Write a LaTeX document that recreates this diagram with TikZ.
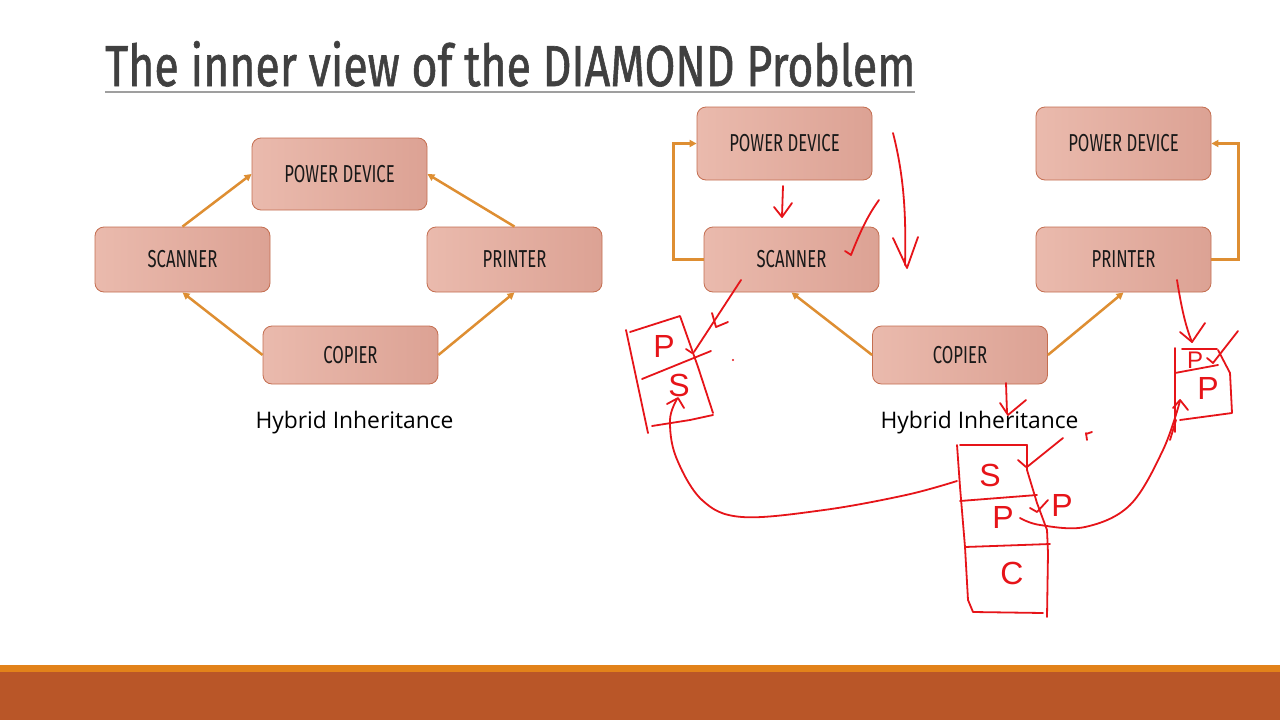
\documentclass[tikz,border=0pt]{standalone}
\usepackage{fontspec}
\usepackage{graphicx}
\usetikzlibrary{arrows.meta}
\newfontfamily\nodefont[FakeStretch=0.68]{Fira Sans}
\newfontfamily\titlefont[FakeBold=1.2]{Fira Sans}
\newfontfamily\capfont{Open Sans}
\newfontfamily\handfont{Liberation Sans}
\definecolor{boxfillL}{RGB}{234,186,173}
\definecolor{boxfillR}{RGB}{220,162,148}
\definecolor{boxline}{RGB}{196,110,80}
\definecolor{arrowor}{RGB}{222,142,50}
\definecolor{penred}{RGB}{230,20,25}
\definecolor{barcol}{RGB}{185,86,40}
\definecolor{stripe}{RGB}{226,130,26}
\definecolor{titlegray}{RGB}{64,64,64}
\begin{document}
\begin{tikzpicture}[x=1pt,y=-1pt,
 box/.style={draw=boxline, line width=0.8pt, rounded corners=9pt, left color=boxfillL, right color=boxfillR, minimum width=175pt, inner sep=0pt, font=\nodefont\fontsize{24.5}{24.5}\selectfont, text=black!90},
 oarrow/.style={draw=arrowor, line width=2.5pt, -{Triangle[length=7pt,width=7pt]}},
 pen/.style={draw=penred, line width=1.8pt, line cap=round, line join=round},
 hand/.style={text=penred, font=\handfont\fontsize{32}{32}\selectfont, inner sep=0pt},
]
\useasboundingbox (0,0) rectangle (1280,720);
\fill[white] (0,0) rectangle (1280,720);
% bottom bar
\fill[stripe] (0,665) rectangle (1280,672);
\fill[barcol] (0,672) rectangle (1280,720);

% title
\node[anchor=base west, inner sep=0pt, text=titlegray] (title) at (105,86) {\resizebox{810pt}{45pt}{\titlefont The inner view of the DIAMOND Problem}};
\draw[gray!75, line width=1.8pt] (105,92) -- (915,92);

% left diagram
\node[box, minimum height=72pt] (pdA) at (339.5,174) {POWER DEVICE};
\node[box, minimum height=65pt] (scA) at (182.5,259.5) {SCANNER};
\node[box, minimum height=65pt] (prA) at (514.5,259.5) {PRINTER};
\node[box, minimum height=58pt] (cpA) at (350.5,355) {COPIER};
\node[anchor=base, inner sep=0pt] (capA) at (354.5,428) {\resizebox{198pt}{!}{\capfont Hybrid Inheritance}};
\draw[oarrow] (scA.north) -- (pdA.west);
\draw[oarrow] (prA.north) -- (pdA.east);
\draw[oarrow] (cpA.west) -- (scA.south);
\draw[oarrow] (cpA.east) -- (prA.south);

% right diagram
\node[box, minimum height=73pt] (pdB) at (784.5,143.5) {POWER DEVICE};
\node[box, minimum height=65pt] (scB) at (791.5,259.5) {SCANNER};
\node[box, minimum height=73pt] (pdC) at (1123.5,143.5) {POWER DEVICE};
\node[box, minimum height=65pt] (prB) at (1123.5,259.5) {PRINTER};
\node[box, minimum height=58pt] (cpB) at (960,355) {COPIER};
\node[anchor=base, inner sep=0pt] (capB) at (979.5,428) {\resizebox{198pt}{!}{\capfont Hybrid Inheritance}};
\draw[oarrow] (scB.west) -- ++(-30,0) |- (pdB.west);
\draw[oarrow] (prB.east) -- ++(27,0) |- (pdC.east);
\draw[oarrow] (cpB.west) -- (scB.south);
\draw[oarrow] (cpB.east) -- (prB.south);

% red annotations
\draw[pen] (783,186) -- (782,216);
\draw[pen] (774,207) -- (782,217) -- (792,203);
\draw[pen] (845,251) -- (851,255) .. controls (860,232) and (868,215) .. (879,200);
\draw[pen] (893,133) .. controls (905,180) and (906,220) .. (905,265);
\draw[pen] (893,238) -- (907,268) -- (918,237);
% scanner to left box
\draw[pen] (741,280) -- (694,352);
\draw[pen] (712,313) -- (716,327) -- (728,322);
\draw[pen] (686,349) -- (692,353);
% left box
\draw[pen] (626,330) -- (648,433);
\draw[pen] (630,332) -- (680,316) -- (698,367) -- (713,413);
\draw[pen] (652,426) -- (690,420) -- (713,415);
\draw[pen] (642,379) -- (711,351);
\node[hand] (lp) at (664,346) {P};
\node[hand] (ls) at (679,385) {S};
\fill[penred] (733,360) circle (1.2pt);
% big left curve
\draw[pen] plot[smooth, tension=0.6] coordinates {(957,481) (906,495) (824,510) (742,517) (702,500) (676,457) (670,420) (677,399)};
\draw[pen] (667,404) -- (678,398) -- (684,408);
% copier arrow
\draw[pen] (1006,383) -- (1007,413);
\draw[pen] (1000,403) -- (1008,415) -- (1026,400);
% bottom box
\draw[pen] (960,445) -- (1027,445);
\draw[pen] (957,445) -- (960,487) -- (965,547) -- (968,600) -- (973,612) -- (1043,613);
\draw[pen] (1027,445) -- (1027,470) -- (1037,503) -- (1047,530) -- (1048,553) -- (1047,617);
\draw[pen] (960,501) -- (1037,495);
\draw[pen] (965,547) -- (1050,544);
\node[hand] (bs) at (990,475) {S};
\node[hand] (bp) at (1003,517) {P};
\node[hand] (bc) at (1012,573) {C};
\node[hand] (bp2) at (1062,505) {P};
\draw[pen] (1086,433) -- (1087,440);
\draw[pen] (1086,434) -- (1092,432);
\draw[pen] (1063,438) -- (1027,467);
\draw[pen] (1018,460) -- (1026,467);
\draw[pen] (1030,508) -- (1037,512) -- (1048,500);
% right curve
\draw[pen] plot[smooth, tension=0.6] coordinates {(1020,518) (1040,525) (1085,527) (1130,505) (1163,450) (1180,401)};
\draw[pen] (1173,408) -- (1180,400) -- (1188,410);
\draw[pen] (1170,440) -- (1176,420);
% printer to right box
\draw[pen] (1177,280) .. controls (1181,305) and (1185,325) .. (1192,342);
\draw[pen] (1180,332) -- (1192,342) -- (1205,323);
% right box
\draw[pen] (1175,348) -- (1175,432);
\draw[pen] (1182,349) -- (1217,349);
\draw[pen] (1218,350) -- (1230,373) -- (1232,413) -- (1180,420);
\draw[pen] (1175,373) -- (1218,365);
\node[hand, font=\handfont\fontsize{24}{24}\selectfont] (rp1) at (1195,360) {P};
\node[hand] (rp2) at (1208,388) {P};
\draw[pen] (1207,358) -- (1213,363) -- (1238,331);
\end{tikzpicture}
\end{document}
